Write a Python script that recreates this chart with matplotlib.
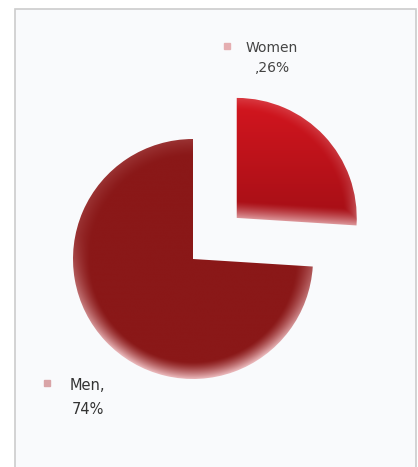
import numpy as np
import matplotlib
matplotlib.use("Agg")
import matplotlib.pyplot as plt
from matplotlib.patches import Rectangle
from matplotlib.colors import to_rgb

# data
labels = ["Women", "Men"]
values = [26, 74]
base_colors = ["#c3121b", "#8a1818"]
edge_color = "#eab8bb"

fig = plt.figure(figsize=(4.18, 4.67), dpi=100)
fig.patch.set_facecolor("white")

W, H = 418, 467
R = 120.0  # pie radius in pixels
cx, cy = 193, 259

ax = fig.add_axes([0, 0, 1, 1])
ax.set_facecolor("none")

# chart frame (pixel coords -> figure fraction)
ax.add_patch(Rectangle((15 / W, -0.01), (416 - 15) / W, (H - 9) / H + 0.01,
                       transform=fig.transFigure, facecolor="#f9fafc",
                       edgecolor="#cccccc", linewidth=1.2, zorder=0))

wedges, _ = ax.pie(values, explode=[0.5, 0], startangle=90, counterclock=False,
                   colors=base_colors, radius=1, center=(0, 0), frame=True)
ax.set_xlim(-cx / R, (W - cx) / R)
ax.set_ylim((cy - H) / R, cy / R)
ax.axis("off")

# soft-edge shading, clipped to each wedge
xs = np.linspace(-cx / R, (W - cx) / R, 420)
ys = np.linspace((cy - H) / R, cy / R, 470)
X, Y = np.meshgrid(xs, ys)
light = np.array(to_rgb(edge_color))
for i, w in enumerate(wedges):
    c0, c1 = np.array(w.center)
    dx, dy = X - c0, Y - c1
    rr = np.hypot(dx, dy) + 1e-9
    base = np.array(to_rgb(base_colors[i]))
    if i == 0:
        # brighter at the top, darker at the bottom
        top = np.array(to_rgb("#d4161f"))
        bot = np.array(to_rgb("#a60f16"))
        s = np.clip(dy, 0, 1)[..., None]
        col = bot * (1 - s) + top * s
        t = np.clip((rr - 0.9) / 0.1, 0, 1) * (0.3 + 0.7 * np.clip(-dy / rr + 0.3, 0, 1))
        # fade along the lower straight edge
        ang = np.deg2rad(-3.6)
        dist = -dx * np.sin(ang) + dy * np.cos(ang)
        t = np.maximum(t, np.clip(1 - dist / 0.14, 0, 1) * 0.85)
    else:
        col = np.broadcast_to(base, X.shape + (3,)).copy()
        t = np.clip((rr - 0.86) / 0.14, 0, 1) * (0.25 + 0.75 * np.clip(-dy / rr + 0.2, 0, 1))
    t = t[..., None] ** 1.3
    img = col * (1 - t) + light * t
    im = ax.imshow(img, extent=(xs[0], xs[-1], ys[0], ys[-1]), origin="lower",
                   interpolation="bilinear", zorder=2, aspect="auto")
    im.set_clip_path(w)
    w.set_facecolor("none")
    w.set_edgecolor("none")

ax.set_xlim(-cx / R, (W - cx) / R)
ax.set_ylim((cy - H) / R, cy / R)


def px(x, y):
    return (x - cx) / R, (cy - y) / R


font = ["DejaVu Sans"]
# data labels with small markers
mx, my = px(227, 46)
ax.plot(mx, my, marker="s", markersize=5, color="#e5aeb1", zorder=3)
tx, ty = px(272, 48)
ax.text(tx, ty, labels[0], ha="center", va="center", fontsize=10, color="#444444",
        family=font, zorder=3)
tx, ty = px(273, 68)
ax.text(tx, ty, f",{values[0]}%", ha="center", va="center", fontsize=10, color="#444444",
        family=font, zorder=3)

mx, my = px(47, 383)
ax.plot(mx, my, marker="s", markersize=5, color="#d9a4a7", zorder=3)
tx, ty = px(87, 386)
ax.text(tx, ty, labels[1] + ",", ha="center", va="center", fontsize=10.5, color="#333333",
        family=font, zorder=3)
tx, ty = px(88, 409)
ax.text(tx, ty, f"{values[1]}%", ha="center", va="center", fontsize=10.5, color="#333333",
        family=font, zorder=3)

fig.savefig("out.png", dpi=100)
